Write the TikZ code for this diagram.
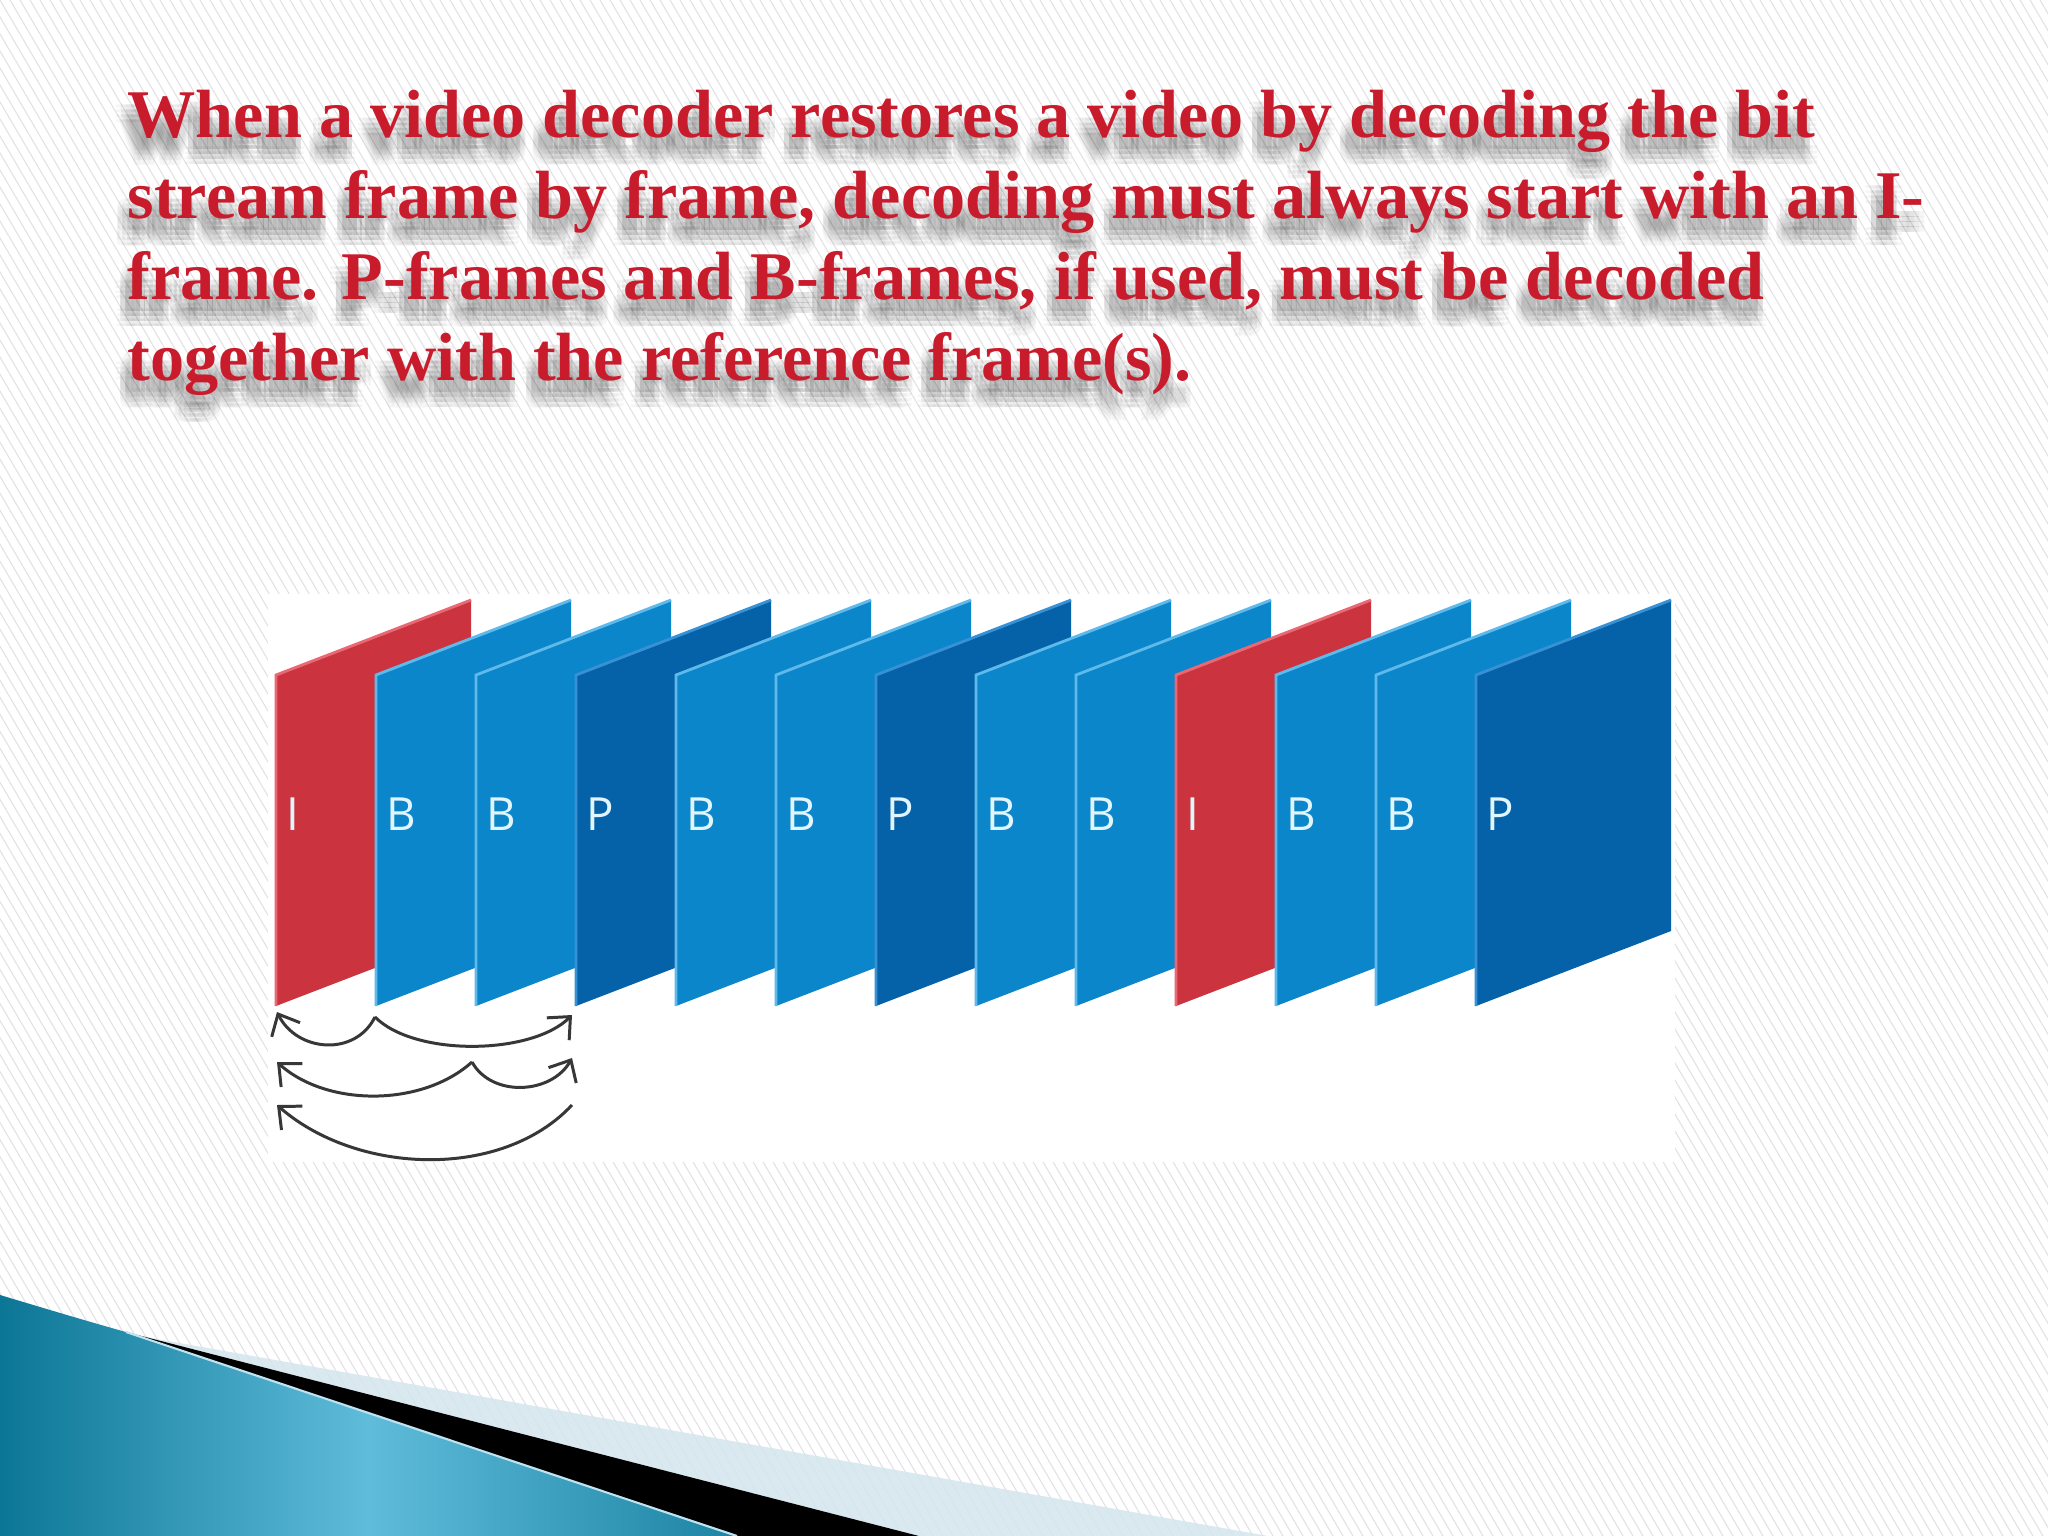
\documentclass[tikz,border=0pt]{standalone}
\usepackage{fontspec}
\setmainfont{Liberation Serif}
\newfontfamily\labelfont{Open Sans}
\usetikzlibrary{arrows.meta}

\definecolor{titlered}{RGB}{200,28,45}
\definecolor{frameI}{RGB}{203,52,62}
\definecolor{frameB}{RGB}{12,134,202}
\definecolor{frameP}{RGB}{6,98,168}
\definecolor{edgeI}{RGB}{232,105,115}
\definecolor{edgeB}{RGB}{95,185,235}
\definecolor{edgeP}{RGB}{55,145,212}
\definecolor{hatchgray}{RGB}{226,226,230}
\definecolor{tealdark}{RGB}{12,118,150}
\definecolor{teallight}{RGB}{95,188,218}
\definecolor{paleblue}{RGB}{212,230,238}
\definecolor{arrowgray}{RGB}{55,55,55}

\tikzset{
  titleline/.style={anchor=base west, inner sep=0pt, text=titlered,
    font=\fontsize{19.4}{23}\selectfont\bfseries},
  framelabel/.style={anchor=west, inner sep=0pt, text=white!88!cyan,
    font=\labelfont\fontsize{13}{15}\selectfont},
  refarrow/.style={arrowgray, line width=0.85pt, -{Straight Barb[length=5pt,width=9pt]}},
}

\begin{document}
\begin{tikzpicture}[x=0.01cm, y=-0.01cm]
    \useasboundingbox (0,0) rectangle (2048,1536);
    \fill[white] (0,0) rectangle (2048,1536);

    % slide background hatching
    \begin{scope}
        \clip (0,0) rectangle (2048,1536);
        \foreach \x in {-910,-900,...,2050}
            \draw[hatchgray, line width=0.3pt] (\x,0) -- ++(903,1536);
    \end{scope}

    % title, with a soft shadow
    \foreach \txt [count=\k] in {{When a video decoder restores a video by decoding the bit},
        {stream frame by frame, decoding must always start with an I-},
        {frame. P-frames and B-frames, if used, must be decoded},
        {together with the reference frame(s).}} {
        \pgfmathsetmacro{\y}{137+81*(\k-1)}
        \foreach \dx in {-12,-7,-2,3}
            \foreach \dy in {12,17,22,27}
                \node[titleline, text=black, opacity=0.035] at (127+\dx,\y+\dy) {\txt};
        \node[titleline] (title\k) at (127,\y) {\txt};
    }

    % white backing of the frame picture
    \fill[white] (268,594) rectangle (1675,1162);

    % frame sequence
    \foreach \ft [count=\i from 0] in {I,B,B,P,B,B,P,B,B,I,B,B,P} {
        \pgfmathsetmacro{\x}{276+100*\i}
        \fill[frame\ft] (\x,675) -- (\x+195,600) -- (\x+195,931) -- (\x,1006) -- cycle;
        \draw[edge\ft, line width=0.8pt] (\x,1006) -- (\x,675) -- (\x+195,600);
        \node[framelabel] (lab\i) at (\x+10,814) {\ft};
    }

    % reference arrows
    \coordinate (r1i) at (277,1012);
    \coordinate (r1b) at (375,1017);
    \coordinate (r1p) at (572,1015);
    \coordinate (r2i) at (277,1062);
    \coordinate (r2b) at (472,1062);
    \coordinate (r2p) at (572,1058);
    \coordinate (r3i) at (277,1105);
    \coordinate (r3p) at (572,1105);
    \draw[refarrow] (r1b) .. controls +(-20,40) and +(20,40) .. (r1i);
    \draw[refarrow] (r1b) .. controls +(40,40) and +(-40,40) .. (r1p);
    \draw[refarrow] (r2b) .. controls +(-50,45) and +(50,45) .. (r2i);
    \draw[refarrow] (r2b) .. controls +(20,36) and +(-20,36) .. (r2p);
    \draw[refarrow] (r3p) .. controls +(-70,75) and +(80,70) .. (r3i);

    % corner swoosh
    \shade[left color=tealdark, right color=tealdark!80!teallight, middle color=teallight]
        (0,1295) .. controls (50,1310) and (90,1322) .. (126,1332) -- (737,1536) -- (0,1536) -- cycle;
    \fill[paleblue, opacity=0.85] (140,1336) -- (1268,1536) -- (919,1536) -- cycle;
    \fill[black] (126,1332) -- (919,1536) -- (737,1536) -- cycle;
    \draw[white!60!teallight, line width=0.6pt] (126,1332) -- (737,1536);
\end{tikzpicture}
\end{document}
